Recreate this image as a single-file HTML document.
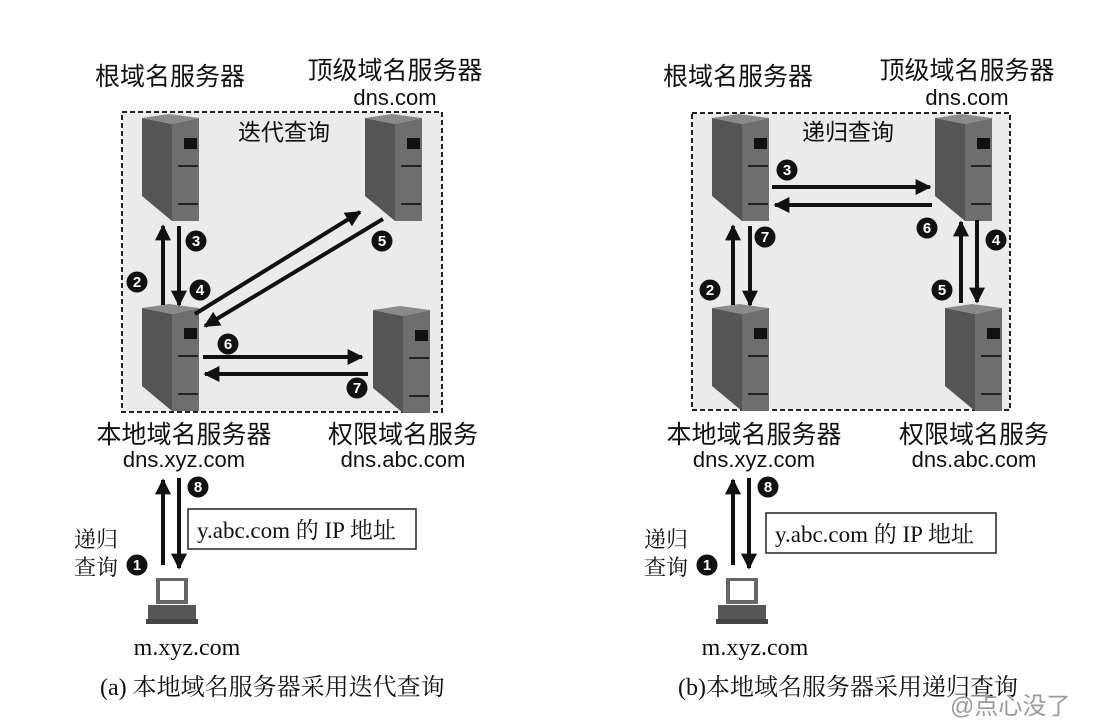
<!DOCTYPE html>
<html><head><meta charset="utf-8"><style>
body{margin:0;background:#fff}
svg{display:block}
text{font-family:"Liberation Serif","Noto Serif CJK SC","Noto Sans CJK SC",serif;fill:#111}
.c{font-family:"Liberation Sans","Noto Sans CJK SC",sans-serif}
.n{font-family:"Liberation Sans",sans-serif;font-weight:bold;fill:#fff;font-size:15px}
</style></head><body>
<svg width="1120" height="726" viewBox="0 0 1120 726" xmlns="http://www.w3.org/2000/svg">
<defs>
<g id="srv">
<polygon points="0,0 30,6 30,103 0,78" fill="#555"/>
<polygon points="30,6 57,0 57,103 30,103" fill="#6e6e6e"/>
<polygon points="0,0 27,-4 57,0 30,6" fill="#8a8a8a"/>
<rect x="42" y="20" width="13" height="11" fill="#111"/>
<line x1="36" y1="48" x2="56" y2="48" stroke="#222" stroke-width="2"/>
<line x1="36" y1="86" x2="56" y2="86" stroke="#222" stroke-width="2"/>
</g>
<marker id="ah" viewBox="0 0 10 10" refX="9" refY="5" markerWidth="4" markerHeight="4" orient="auto"><path d="M0,0 L10,5 L0,10 z" fill="#111"/></marker>
<g id="pc">
<rect x="10" y="0" width="32" height="26" fill="#666"/>
<rect x="14" y="3" width="24" height="19" fill="#fff"/>
<rect x="2" y="27" width="48" height="14" fill="#555"/>
<rect x="0" y="41" width="52" height="5" fill="#444"/>
</g>
</defs>

<!-- Panel A -->
<rect x="122" y="112" width="320" height="300" fill="#ebebeb" stroke="#222" stroke-width="2" stroke-dasharray="5,3"/>
<text x="238" y="140" font-size="23" class="c">迭代查询</text>
<use href="#srv" x="142" y="118"/>
<use href="#srv" x="365" y="118"/>
<use href="#srv" x="142" y="308"/>
<use href="#srv" x="373" y="310"/>
<g stroke="#111" stroke-width="4" marker-end="url(#ah)" fill="none">
<line x1="163" y1="305" x2="163" y2="226"/>
<line x1="179" y1="226" x2="179" y2="305"/>
<line x1="195" y1="314" x2="360" y2="212"/>
<line x1="383" y1="219" x2="205" y2="326"/>
<line x1="203" y1="357" x2="362" y2="357"/>
<line x1="368" y1="374" x2="205" y2="374"/>
<line x1="163" y1="565" x2="163" y2="480"/>
<line x1="179" y1="478" x2="179" y2="568"/>
</g>
<g fill="#111">
<circle cx="196" cy="241" r="10.5"/><circle cx="137" cy="282" r="10.5"/><circle cx="200" cy="290" r="10.5"/>
<circle cx="382" cy="241" r="10.5"/><circle cx="228" cy="344" r="10.5"/><circle cx="357" cy="388" r="10.5"/>
<circle cx="198" cy="487" r="10.5"/><circle cx="137" cy="565" r="10.5"/>
</g>
<g text-anchor="middle">
<text x="196" y="246" class="n">3</text><text x="137" y="287" class="n">2</text><text x="200" y="295" class="n">4</text>
<text x="382" y="246" class="n">5</text><text x="228" y="349" class="n">6</text><text x="357" y="393" class="n">7</text>
<text x="198" y="492" class="n">8</text><text x="137" y="570" class="n">1</text>
</g>
<text x="170" y="85" font-size="25" text-anchor="middle" class="c">根域名服务器</text>
<text x="395" y="79" font-size="25" text-anchor="middle" class="c">顶级域名服务器</text>
<text x="395" y="105" font-size="22" text-anchor="middle" class="c">dns.com</text>
<text x="184" y="443" font-size="25" text-anchor="middle" class="c">本地域名服务器</text>
<text x="184" y="467" font-size="22" text-anchor="middle" class="c">dns.xyz.com</text>
<text x="403" y="443" font-size="25" text-anchor="middle" class="c">权限域名服务</text>
<text x="403" y="467" font-size="22" text-anchor="middle" class="c">dns.abc.com</text>
<rect x="188" y="509" width="228" height="40" fill="#fff" stroke="#222" stroke-width="1.5"/>
<text x="197" y="538" font-size="23">y.abc.com 的 IP 地址</text>
<text x="74" y="547" font-size="22">递归</text>
<text x="74" y="575" font-size="22">查询</text>
<use href="#pc" x="146" y="578"/>
<text x="187" y="655" font-size="24" text-anchor="middle">m.xyz.com</text>
<text x="100" y="695" font-size="24">(a) 本地域名服务器采用迭代查询</text>

<!-- Panel B -->
<rect x="692" y="113" width="318" height="297" fill="#ebebeb" stroke="#222" stroke-width="2" stroke-dasharray="5,3"/>
<text x="802" y="140" font-size="23" class="c">递归查询</text>
<use href="#srv" x="712" y="118"/>
<use href="#srv" x="935" y="118"/>
<use href="#srv" x="712" y="308"/>
<use href="#srv" x="945" y="308"/>
<g stroke="#111" stroke-width="4" marker-end="url(#ah)" fill="none">
<line x1="772" y1="187" x2="930" y2="187"/>
<line x1="932" y1="205" x2="775" y2="205"/>
<line x1="733" y1="305" x2="733" y2="226"/>
<line x1="750" y1="226" x2="750" y2="305"/>
<line x1="961" y1="303" x2="961" y2="222"/>
<line x1="977" y1="220" x2="977" y2="302"/>
<line x1="733" y1="565" x2="733" y2="480"/>
<line x1="749" y1="478" x2="749" y2="568"/>
</g>
<g fill="#111">
<circle cx="787" cy="170" r="10.5"/><circle cx="927" cy="228" r="10.5"/><circle cx="765" cy="237" r="10.5"/>
<circle cx="710" cy="290" r="10.5"/><circle cx="996" cy="240" r="10.5"/><circle cx="942" cy="290" r="10.5"/>
<circle cx="768" cy="487" r="10.5"/><circle cx="707" cy="565" r="10.5"/>
</g>
<g text-anchor="middle">
<text x="787" y="175" class="n">3</text><text x="927" y="233" class="n">6</text><text x="765" y="242" class="n">7</text>
<text x="710" y="295" class="n">2</text><text x="996" y="245" class="n">4</text><text x="942" y="295" class="n">5</text>
<text x="768" y="492" class="n">8</text><text x="707" y="570" class="n">1</text>
</g>
<text x="738" y="85" font-size="25" text-anchor="middle" class="c">根域名服务器</text>
<text x="967" y="79" font-size="25" text-anchor="middle" class="c">顶级域名服务器</text>
<text x="967" y="105" font-size="22" text-anchor="middle" class="c">dns.com</text>
<text x="754" y="443" font-size="25" text-anchor="middle" class="c">本地域名服务器</text>
<text x="754" y="467" font-size="22" text-anchor="middle" class="c">dns.xyz.com</text>
<text x="974" y="443" font-size="25" text-anchor="middle" class="c">权限域名服务</text>
<text x="974" y="467" font-size="22" text-anchor="middle" class="c">dns.abc.com</text>
<rect x="766" y="513" width="230" height="40" fill="#fff" stroke="#222" stroke-width="1.5"/>
<text x="775" y="542" font-size="23">y.abc.com 的 IP 地址</text>
<text x="644" y="547" font-size="22">递归</text>
<text x="644" y="575" font-size="22">查询</text>
<use href="#pc" x="716" y="578"/>
<text x="755" y="655" font-size="24" text-anchor="middle">m.xyz.com</text>
<text x="678" y="695" font-size="24">(b)本地域名服务器采用递归查询</text>
<text x="950" y="714" font-size="24" style="fill:#9a9a9a" class="c">@点心没了</text>
</svg>
</body></html>
